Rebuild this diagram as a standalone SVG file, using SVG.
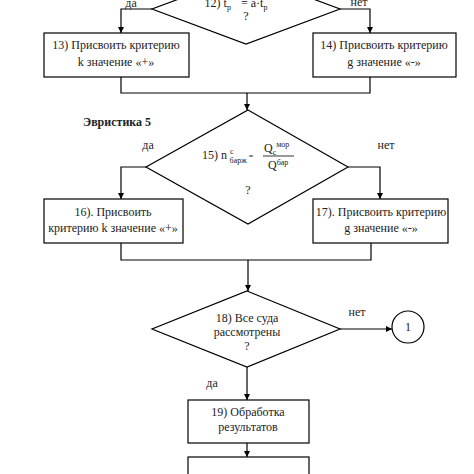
<svg xmlns="http://www.w3.org/2000/svg" width="474" height="474" viewBox="0 0 474 474">
<defs>
<marker id="ah" viewBox="0 0 10 10" refX="10" refY="5" markerWidth="6" markerHeight="6" orient="auto" markerUnits="userSpaceOnUse">
<path d="M0,0 L10,5 L0,10 z" fill="#000"/>
</marker>
<style>
.s{fill:#fff;stroke:#000;stroke-width:1.2}
.c{fill:none;stroke:#000;stroke-width:1.2}
text{font-family:'Liberation Serif','DejaVu Serif',serif}
.t{font-size:12px;fill:#222;text-anchor:middle}
.sm{font-size:8px}
.b{font-weight:bold;text-anchor:start}
</style>
</defs>
<rect width="474" height="474" fill="#fff"/>
<g id="connectors">
<polyline class="c" points="152,9 121,9 121,33" marker-end="url(#ah)"/>
<polyline class="c" points="340,9 370,9 370,33" marker-end="url(#ah)"/>
<polyline class="c" points="121,77 121,93 370,93 370,77"/>
<line class="c" x1="247" y1="93" x2="247" y2="110" marker-end="url(#ah)"/>
<polyline class="c" points="146,167 121,167 121,199" marker-end="url(#ah)"/>
<polyline class="c" points="348,167 380,167 380,199" marker-end="url(#ah)"/>
<polyline class="c" points="121,243 121,260 371,260 371,243"/>
<line class="c" x1="248" y1="260" x2="248" y2="291" marker-end="url(#ah)"/>
<line class="c" x1="340" y1="329" x2="392" y2="329" marker-end="url(#ah)"/>
<line class="c" x1="247" y1="367" x2="247" y2="400" marker-end="url(#ah)"/>
<line class="c" x1="247" y1="443" x2="247" y2="457" marker-end="url(#ah)"/>
</g>
<g id="n12">
<polygon class="s" points="246,-26 340,9 246,44 152,9"/>
<text class="t" x="236" y="7" font-family="Liberation Serif, serif">12) t<tspan class="sm" dy="3">p</tspan><tspan dy="-3" dx="10">= a·t</tspan><tspan class="sm" dy="3">p</tspan></text>
<text class="t" x="246" y="20" font-family="Liberation Serif, serif">?</text>
</g>
<text class="t" x="131" y="7" font-family="Liberation Serif, serif">да</text>
<text class="t" x="359" y="6" font-family="Liberation Serif, serif">нет</text>
<g id="n13">
<rect class="s" x="44" y="33" width="145" height="44"/>
<text class="t" x="116" y="49" font-family="Liberation Serif, serif">13) Присвоить критерию</text>
<text class="t" x="116" y="66" font-family="Liberation Serif, serif">k значение «+»</text>
</g>
<g id="n14">
<rect class="s" x="313" y="33" width="143" height="44"/>
<text class="t" x="384" y="49" font-family="Liberation Serif, serif">14) Присвоить критерию</text>
<text class="t" x="384" y="66" font-family="Liberation Serif, serif">g значение «-»</text>
</g>
<text class="t b" x="83" y="126" font-family="Liberation Serif, serif">Эвристика 5</text>
<text class="t" x="148" y="149" font-family="Liberation Serif, serif">да</text>
<text class="t" x="386" y="149" font-family="Liberation Serif, serif">нет</text>
<g id="n15">
<polygon class="s" points="248,110 348,167 248,224 146,167"/>
<text class="t" x="202" y="159" style="text-anchor:start" font-family="Liberation Serif, serif">15) n<tspan class="sm" dx="3" dy="-5">c</tspan><tspan class="sm" dx="-4" dy="9">барж</tspan><tspan class="sm" dx="2" dy="-4">=</tspan></text>
<text class="t" x="264" y="152" style="text-anchor:start" font-family="Liberation Serif, serif">Q<tspan class="sm" dy="3">c</tspan><tspan class="sm" dy="-8">мор</tspan></text>
<line x1="263" y1="156" x2="294" y2="156" stroke="#000" stroke-width="0.8"/>
<text class="t" x="268" y="169" style="text-anchor:start" font-family="Liberation Serif, serif">Q<tspan class="sm" dy="-4">бар</tspan></text>
<text class="t" x="248" y="194" font-family="Liberation Serif, serif">?</text>
</g>
<g id="n16">
<rect class="s" x="44" y="199" width="139" height="44"/>
<text class="t" x="113" y="216" font-family="Liberation Serif, serif">16). Присвоить</text>
<text class="t" x="113" y="232" font-family="Liberation Serif, serif">критерию k значение «+»</text>
</g>
<g id="n17">
<rect class="s" x="313" y="199" width="135" height="44"/>
<text class="t" x="381" y="216" font-family="Liberation Serif, serif">17). Присвоить критерию</text>
<text class="t" x="381" y="232" font-family="Liberation Serif, serif">g значение «-»</text>
</g>
<g id="n18">
<polygon class="s" points="247,291 340,329 247,367 152,329"/>
<text class="t" x="247" y="322" font-family="Liberation Serif, serif">18) Все суда</text>
<text class="t" x="247" y="336" font-family="Liberation Serif, serif">рассмотрены</text>
<text class="t" x="247" y="350" font-family="Liberation Serif, serif">?</text>
</g>
<text class="t" x="357" y="316" font-family="Liberation Serif, serif">нет</text>
<g id="c1">
<circle class="s" cx="408" cy="327" r="16"/>
<text class="t" x="408" y="331" font-family="Liberation Serif, serif">1</text>
</g>
<text class="t" x="212" y="387" font-family="Liberation Serif, serif">да</text>
<g id="n19">
<rect class="s" x="188" y="400" width="121" height="43"/>
<text class="t" x="248" y="416" font-family="Liberation Serif, serif">19) Обработка</text>
<text class="t" x="248" y="431" font-family="Liberation Serif, serif">результатов</text>
</g>
<g id="n20">
<rect class="s" x="188" y="457" width="121" height="30"/>
</g>
</svg>
